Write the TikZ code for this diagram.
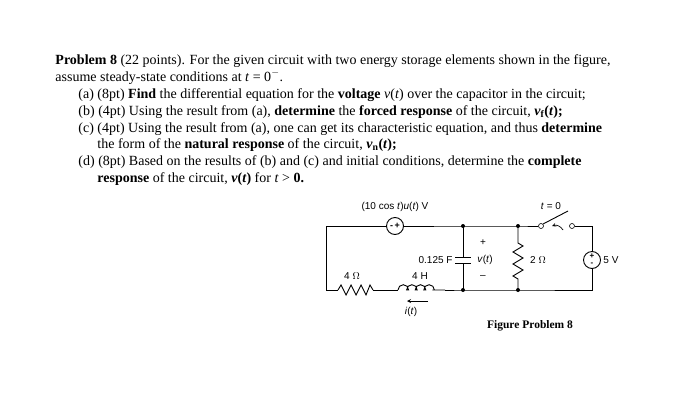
\documentclass[tikz,border=0pt]{standalone}
\usepackage{fontspec}
\setmainfont{Liberation Serif}
\setsansfont{Liberation Sans}
\begin{document}
\begin{tikzpicture}[x=1pt,y=-1pt,line width=0.9pt,
  txt/.style={anchor=base west,inner sep=0pt,font=\fontsize{14}{16}\selectfont},
  lab/.style={inner sep=1pt,font=\sffamily\fontsize{10}{11}\selectfont},
  dot/.style={circle,fill,inner sep=0pt,minimum size=4pt},
  src/.style={circle,draw,inner sep=0pt,minimum size=17pt},
  cont/.style={circle,draw,fill=white,inner sep=0pt,minimum size=5pt,line width=0.6pt}]
\useasboundingbox (0,0) rectangle (700,407);
\node[txt] (l1) at (55,64) {\textbf{Problem 8} (22 points). For the given circuit with two energy storage elements shown in the figure,};
\node[txt] (l2) at (55,81) {assume steady-state conditions at \textit{t} = 0$^-$.};
\node[txt] (l3) at (78,98) {(a) (8pt) \textbf{Find} the differential equation for the \textbf{voltage} \textit{v}(\textit{t}) over the capacitor in the circuit;};
\node[txt] (l4) at (78,115) {(b) (4pt) Using the result from (a), \textbf{determine} the \textbf{forced response} of the circuit, \textbf{\textit{v}$_{\mathbf f}$(\textit{t});}};
\node[txt] (l5) at (78,132) {(c) (4pt) Using the result from (a), one can get its characteristic equation, and thus \textbf{determine}};
\node[txt] (l6) at (97,148) {the form of the \textbf{natural response} of the circuit, \textbf{\textit{v}$_{\mathbf n}$(\textit{t});}};
\node[txt] (l7) at (78,165) {(d) (8pt) Based on the results of (b) and (c) and initial conditions, determine the \textbf{complete}};
\node[txt] (l8) at (97,182) {\textbf{response} of the circuit, \textbf{\textit{v}(\textit{t})} for \textit{t} > \textbf{0.}};
% nodes
\coordinate (tl) at (326,226); \coordinate (bl) at (326,290);
\coordinate (tr) at (592,226); \coordinate (br) at (592,290);
\node[dot] (ct) at (463,226) {}; \node[dot] (cb) at (463,290) {};
\node[dot] (rt) at (518,226) {}; \node[dot] (rb) at (518,290) {};
\node[src] (vs) at (395,226) {}; 
\node[font=\sffamily\fontsize{9}{9}\selectfont\bfseries,inner sep=0pt] at (vs.center) {-\,+};
\node[src] (v5) at (592,260) {};
\node[font=\sffamily\bfseries\fontsize{8}{8}\selectfont,inner sep=0pt] at (592,256) {+};
\node[font=\sffamily\bfseries\fontsize{8}{8}\selectfont,inner sep=0pt] at (592,264.5) {-};
\node[cont] (s1) at (541,226) {}; \node[cont] (s2) at (572,226) {};
% wires
\draw (vs.west) -- (tl) -- (bl) -- (338,290);
\draw (vs.east) -- (ct.center) -- (rt.center) -- (s1);
\draw (s2) -- (tr) -- (v5.north);
\draw (v5.south) -- (br) -- (rb.center) -- (cb.center) -- (445,290);
\draw (373,290) -- (398,290);
% 4 ohm resistor
\draw (338,290) -- (341,285) -- (346,295) -- (351,285) -- (356,295) -- (361,285) -- (366,295) -- (370,285) -- (373,290);
% inductor
\draw (398,290) \foreach \i in {0,...,3} { arc[start angle=180,end angle=360,radius=5.3] -- ++(-2,0) } -- (445,290);
% capacitor
\draw (ct.center) -- (463,257) (cb.center) -- (463,263);
\draw (455,257) -- (471,257) (455,263) -- (471,263);
% 2 ohm resistor
\draw (rt.center) -- (518,243) -- (523,246) -- (513,252) -- (523,258) -- (513,264) -- (523,270) -- (513,276) -- (518,279) -- (rb.center);
% switch
\draw (s1.north east) -- (568,211);
\draw[-stealth,line width=0.7pt] (563,230) arc[start angle=-30,end angle=-110,radius=9];
% arrow
\draw[-stealth,line width=0.8pt] (428,301) -- (407,301);
% labels
\node[lab] (lvs) at (395,207) {(10 cos \textit{t})\textit{u}(\textit{t}) V};
\node[lab,anchor=east] (lc) at (454,260) {0.125 F};
\node[lab] (lv) at (485,260) {\textit{v}(\textit{t})};
\node[lab] at (483,243) {+};
\node[lab] at (483,277) {--};
\node[lab] (lr2) at (538,260) {2 $\Omega$};
\node[lab] (lr4) at (352,276) {4 $\Omega$};
\node[lab] (ll) at (420,276) {4 H};
\node[lab] (li) at (411,312) {\textit{i}(\textit{t})};
\node[lab] (lt) at (551,206) {\textit{t} = 0};
\node[lab,anchor=west] (l5v) at (602,260) {5 V};
\node[inner sep=0pt,font=\bfseries\fontsize{11.5}{12}\selectfont] (fig) at (530,326) {Figure Problem 8};
\end{tikzpicture}
\end{document}
